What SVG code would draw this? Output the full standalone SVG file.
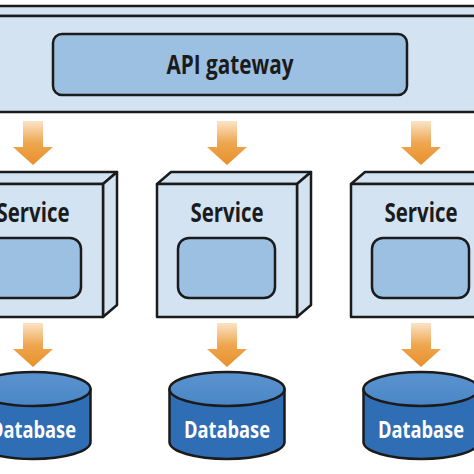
<svg xmlns="http://www.w3.org/2000/svg" width="474" height="474" viewBox="0 0 474 474">
<style>
.ln{stroke:#1b1b1b;stroke-width:2.5;stroke-linejoin:round}
.lt{fill:#d3e3f2}
.mid{fill:#9cc0e2}
.lbl{font-family:"Open Sans","Noto Sans",sans-serif;font-weight:700;fill:#1b1b1b;text-anchor:middle}
.db{font-family:"Open Sans","Noto Sans",sans-serif;font-weight:700;fill:#ffffff;text-anchor:middle}
.arr{fill:url(#ag)}
</style>
<defs>
<linearGradient id="ag" x1="0" y1="0" x2="0" y2="1">
<stop offset="0" stop-color="#fbe3c6"/>
<stop offset="0.5" stop-color="#eea650"/>
<stop offset="1" stop-color="#e8902a"/>
</linearGradient>
<linearGradient id="dbtop" x1="0" y1="0" x2="0" y2="1">
<stop offset="0" stop-color="#5a93cf"/>
<stop offset="1" stop-color="#4a86c6"/>
</linearGradient>
<g id="svc">
<polygon class="ln lt" points="-70,0 -56,-12 84,-12 70,0"/>
<polygon class="ln lt" points="70,0 84,-12 84,121 70,133"/>
<rect class="ln lt" x="-70" y="0" width="140" height="133"/>
<rect class="ln mid" x="-49" y="54" width="97" height="60" rx="11"/>
<text class="lbl" x="0" y="38" font-size="26" textLength="73" lengthAdjust="spacingAndGlyphs">Service</text>
</g>
<g id="cyl">
<path class="ln" fill="#2f6db5" d="M-57.5,0 L-57.5,53 A57.5,17 0 0 0 57.5,53 L57.5,0 Z"/>
<ellipse class="ln" fill="url(#dbtop)" cx="0" cy="0" rx="57.5" ry="17"/>
<text class="db" x="0" y="49" font-size="24" textLength="86" lengthAdjust="spacingAndGlyphs">Database</text>
</g>
<path id="arrow" class="arr" d="M-10,0 L10,0 L10,26 L20,26 L0,44 L-20,26 L-10,26 Z"/>
</defs>

<g id="gateway-layer">
<polygon class="ln lt" points="-10,6 484,6 484,16 -10,16"/>
<rect class="ln lt" x="-10" y="16" width="494" height="96"/>
</g>
<g id="api-gateway">
<rect class="ln mid" x="53" y="34" width="354" height="61" rx="9"/>
<text class="lbl" x="230" y="74" font-size="27" textLength="127" lengthAdjust="spacingAndGlyphs">API gateway</text>
</g>

<g id="connectors">
<use href="#arrow" x="33" y="121"/>
<use href="#arrow" x="227" y="121"/>
<use href="#arrow" x="421" y="121"/>
<use href="#arrow" x="33" y="323"/>
<use href="#arrow" x="227" y="323"/>
<use href="#arrow" x="421" y="323"/>
</g>

<g id="service-1"><use href="#svc" x="33" y="184"/></g>
<g id="service-2"><use href="#svc" x="227" y="184"/></g>
<g id="service-3"><use href="#svc" x="421" y="184"/></g>

<g id="database-1"><use href="#cyl" x="33" y="389"/></g>
<g id="database-2"><use href="#cyl" x="227" y="389"/></g>
<g id="database-3"><use href="#cyl" x="421" y="389"/></g>
</svg>
